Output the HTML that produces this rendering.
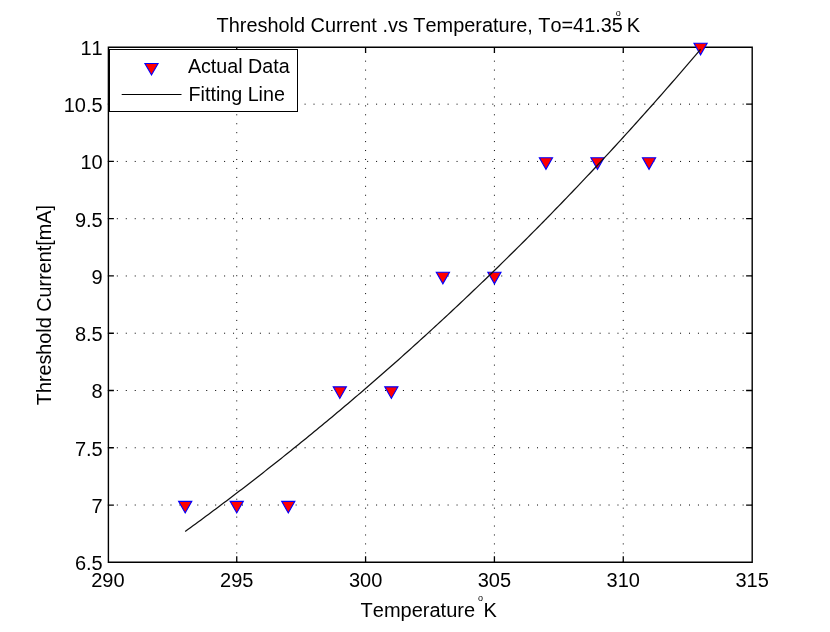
<!DOCTYPE html>
<html><head><meta charset="utf-8"><style>
html,body{margin:0;padding:0;background:#fff;}
svg{display:block;}
.lbl{font-family:"Liberation Sans",Arial,Helvetica,sans-serif;font-size:20px;fill:#000;font-kerning:none;}
.deg{font-size:9px;}
.ttl{font-size:19.9px;}
.lg{font-size:19.7px;}
.yl{font-size:19.8px;}
.grid line{stroke:#000;stroke-width:1;stroke-dasharray:1 7.94;fill:none;}
.tk{stroke:#000;stroke-width:1.3;fill:none;}
.box{stroke:#000;stroke-width:1.4;fill:none;stroke-linejoin:miter;}
.mk{fill:#f00;stroke:#00f;stroke-width:1.1;stroke-linejoin:miter;}
.cv{stroke:#111;stroke-width:1.25;fill:none;stroke-linejoin:round;}
.cvl{stroke:#000;stroke-width:1;}
.leg{fill:#fff;stroke:#000;stroke-width:1;}
</style></head><body>
<svg width="830" height="632" viewBox="0 0 830 632">
<rect x="0" y="0" width="830" height="632" fill="#fff"/>
<g class="grid"><line x1="236.74" y1="562.30" x2="236.74" y2="46.90"/><line x1="365.58" y1="562.30" x2="365.58" y2="46.90"/><line x1="494.42" y1="562.30" x2="494.42" y2="46.90"/><line x1="623.26" y1="562.30" x2="623.26" y2="46.90"/><line x1="107.90" y1="505.03" x2="752.10" y2="505.03"/><line x1="107.90" y1="447.77" x2="752.10" y2="447.77"/><line x1="107.90" y1="390.50" x2="752.10" y2="390.50"/><line x1="107.90" y1="333.23" x2="752.10" y2="333.23"/><line x1="107.90" y1="275.97" x2="752.10" y2="275.97"/><line x1="107.90" y1="218.70" x2="752.10" y2="218.70"/><line x1="107.90" y1="161.43" x2="752.10" y2="161.43"/><line x1="107.90" y1="104.17" x2="752.10" y2="104.17"/></g>
<path class="tk" d="M236.74,562.30V556.30M236.74,46.90V52.90M365.58,562.30V556.30M365.58,46.90V52.90M494.42,562.30V556.30M494.42,46.90V52.90M623.26,562.30V556.30M623.26,46.90V52.90M107.90,505.03H113.90M752.10,505.03H746.10M107.90,447.77H113.90M752.10,447.77H746.10M107.90,390.50H113.90M752.10,390.50H746.10M107.90,333.23H113.90M752.10,333.23H746.10M107.90,275.97H113.90M752.10,275.97H746.10M107.90,218.70H113.90M752.10,218.70H746.10M107.90,161.43H113.90M752.10,161.43H746.10M107.90,104.17H113.90M752.10,104.17H746.10"/>
<path class="box" d="M108.4,47.3H752.2V562.2H108.4Z"/>
<g><path class="mk" d="M178.60,501.38L191.80,501.38L185.20,512.93Z"/><path class="mk" d="M230.14,501.38L243.34,501.38L236.74,512.93Z"/><path class="mk" d="M281.68,501.38L294.88,501.38L288.28,512.93Z"/><path class="mk" d="M333.21,386.85L346.41,386.85L339.81,398.40Z"/><path class="mk" d="M384.75,386.85L397.95,386.85L391.35,398.40Z"/><path class="mk" d="M436.28,272.32L449.48,272.32L442.88,283.87Z"/><path class="mk" d="M487.82,272.32L501.02,272.32L494.42,283.87Z"/><path class="mk" d="M539.36,157.78L552.56,157.78L545.96,169.33Z"/><path class="mk" d="M590.89,157.78L604.09,157.78L597.49,169.33Z"/><path class="mk" d="M642.43,157.78L655.63,157.78L649.03,169.33Z"/><path class="mk" d="M693.96,43.25L707.16,43.25L700.56,54.80Z"/></g>
<path class="cv" d="M185.20,531.49 L187.78,529.61 L190.36,527.73 L192.93,525.85 L195.51,523.95 L198.09,522.06 L200.66,520.16 L203.24,518.25 L205.82,516.35 L208.40,514.43 L210.97,512.51 L213.55,510.59 L216.13,508.66 L218.70,506.73 L221.28,504.79 L223.86,502.85 L226.43,500.90 L229.01,498.95 L231.59,497.00 L234.16,495.04 L236.74,493.07 L239.32,491.10 L241.89,489.13 L244.47,487.15 L247.05,485.16 L249.62,483.17 L252.20,481.18 L254.78,479.18 L257.35,477.17 L259.93,475.17 L262.51,473.15 L265.08,471.13 L267.66,469.11 L270.24,467.08 L272.82,465.05 L275.39,463.01 L277.97,460.97 L280.55,458.92 L283.12,456.87 L285.70,454.81 L288.28,452.75 L290.85,450.68 L293.43,448.61 L296.01,446.53 L298.58,444.45 L301.16,442.36 L303.74,440.26 L306.31,438.17 L308.89,436.06 L311.47,433.95 L314.04,431.84 L316.62,429.72 L319.20,427.60 L321.77,425.47 L324.35,423.34 L326.93,421.20 L329.50,419.05 L332.08,416.90 L334.66,414.75 L337.24,412.59 L339.81,410.42 L342.39,408.25 L344.97,406.08 L347.54,403.90 L350.12,401.71 L352.70,399.52 L355.27,397.32 L357.85,395.12 L360.43,392.91 L363.00,390.70 L365.58,388.48 L368.16,386.26 L370.73,384.03 L373.31,381.80 L375.89,379.56 L378.46,377.31 L381.04,375.06 L383.62,372.81 L386.19,370.54 L388.77,368.28 L391.35,366.01 L393.92,363.73 L396.50,361.44 L399.08,359.16 L401.66,356.86 L404.23,354.56 L406.81,352.25 L409.39,349.94 L411.96,347.63 L414.54,345.30 L417.12,342.98 L419.69,340.64 L422.27,338.30 L424.85,335.96 L427.42,333.61 L430.00,331.25 L432.58,328.89 L435.15,326.52 L437.73,324.15 L440.31,321.77 L442.88,319.38 L445.46,316.99 L448.04,314.60 L450.61,312.19 L453.19,309.79 L455.77,307.37 L458.34,304.95 L460.92,302.53 L463.50,300.10 L466.08,297.66 L468.65,295.21 L471.23,292.77 L473.81,290.31 L476.38,287.85 L478.96,285.38 L481.54,282.91 L484.11,280.43 L486.69,277.94 L489.27,275.45 L491.84,272.96 L494.42,270.45 L497.00,267.94 L499.57,265.43 L502.15,262.91 L504.73,260.38 L507.30,257.85 L509.88,255.31 L512.46,252.76 L515.03,250.21 L517.61,247.65 L520.19,245.09 L522.76,242.52 L525.34,239.94 L527.92,237.36 L530.50,234.77 L533.07,232.17 L535.65,229.57 L538.23,226.96 L540.80,224.35 L543.38,221.72 L545.96,219.10 L548.53,216.46 L551.11,213.82 L553.69,211.18 L556.26,208.52 L558.84,205.87 L561.42,203.20 L563.99,200.53 L566.57,197.85 L569.15,195.16 L571.72,192.47 L574.30,189.77 L576.88,187.07 L579.45,184.36 L582.03,181.64 L584.61,178.92 L587.18,176.19 L589.76,173.45 L592.34,170.70 L594.92,167.95 L597.49,165.20 L600.07,162.43 L602.65,159.66 L605.22,156.88 L607.80,154.10 L610.38,151.31 L612.95,148.51 L615.53,145.71 L618.11,142.90 L620.68,140.08 L623.26,137.25 L625.84,134.42 L628.41,131.58 L630.99,128.74 L633.57,125.88 L636.14,123.02 L638.72,120.16 L641.30,117.29 L643.87,114.41 L646.45,111.52 L649.03,108.62 L651.60,105.72 L654.18,102.82 L656.76,99.90 L659.34,96.98 L661.91,94.05 L664.49,91.11 L667.07,88.17 L669.64,85.22 L672.22,82.26 L674.80,79.30 L677.37,76.32 L679.95,73.34 L682.53,70.36 L685.10,67.36 L687.68,64.36 L690.26,61.35 L692.83,58.34 L695.41,55.32 L697.99,52.29 L700.56,49.25"/>
<g class="lbl"><text x="107.90" y="587" text-anchor="middle">290</text><text x="236.74" y="587" text-anchor="middle">295</text><text x="365.58" y="587" text-anchor="middle">300</text><text x="494.42" y="587" text-anchor="middle">305</text><text x="623.26" y="587" text-anchor="middle">310</text><text x="752.10" y="587" text-anchor="middle">315</text><text x="102.7" y="570.20" text-anchor="end">6.5</text><text x="102.7" y="512.93" text-anchor="end">7</text><text x="102.7" y="455.67" text-anchor="end">7.5</text><text x="102.7" y="398.40" text-anchor="end">8</text><text x="102.7" y="341.13" text-anchor="end">8.5</text><text x="102.7" y="283.87" text-anchor="end">9</text><text x="102.7" y="226.60" text-anchor="end">9.5</text><text x="102.7" y="169.33" text-anchor="end">10</text><text x="102.7" y="112.07" text-anchor="end">10.5</text><text x="102.7" y="54.80" text-anchor="end">11</text></g>
<text class="lbl ttl" x="216.6" y="31.6">Threshold Current .vs Temperature, To=41.35</text>
<text class="lbl deg" x="618.3" y="15.8" text-anchor="middle">o</text>
<text class="lbl" x="626.8" y="31.6">K</text>
<text class="lbl" x="360.6" y="616.7">Temperature</text>
<text class="lbl deg" x="480.4" y="600.7" text-anchor="middle">o</text>
<text class="lbl" x="483.4" y="616.7">K</text>
<text class="lbl yl" transform="translate(50.5,405.2) rotate(-90)" x="0" y="0">Threshold Current[mA]</text>
<rect class="leg" x="109.5" y="49.5" width="188.0" height="62.0"/>
<path class="mk" d="M144.90,63.45L158.10,63.45L151.50,75.00Z"/>
<line class="cvl" x1="121.7" y1="94.5" x2="181.5" y2="94.5"/>
<text class="lbl lg" x="187.9" y="73.3">Actual Data</text>
<text class="lbl lg" x="188.6" y="101.2">Fitting Line</text>
</svg>
</body></html>
